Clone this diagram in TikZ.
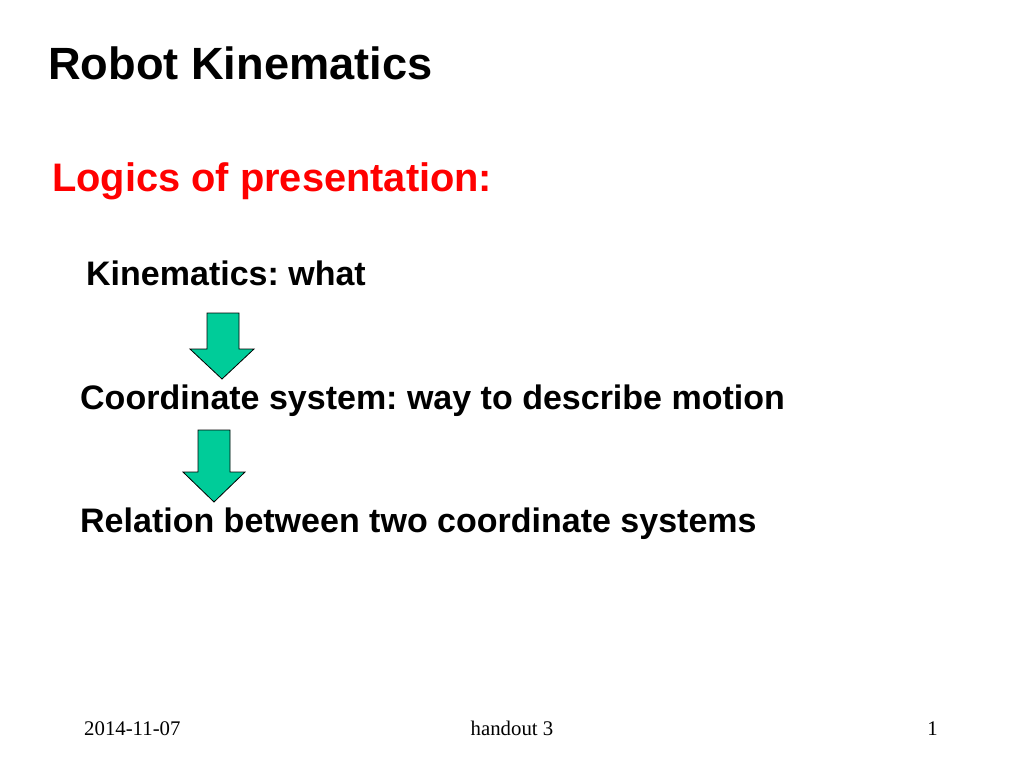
\documentclass[tikz,border=0pt]{standalone}
\usepackage{fontspec}
\setmainfont{Liberation Sans}
\newfontfamily\footfont{Liberation Serif}
\definecolor{arrowgreen}{RGB}{0,204,153}
\definecolor{titlered}{RGB}{255,0,0}
\frenchspacing
\begin{document}
\begin{tikzpicture}[x=1pt,y=-1pt,
  txt/.style={anchor=base west,inner sep=0pt,font=\bfseries},
  foot/.style={anchor=base,inner sep=0pt,font=\footfont\fontsize{20.8}{24}\selectfont},
  blockarrow/.style={draw=black,line width=0.8pt,fill=arrowgreen,line join=miter}]
\useasboundingbox (0,0) rectangle (1024,768);
\fill[white] (0,0) rectangle (1024,768);
\node[txt,font=\bfseries\fontsize{45.2}{54}\selectfont] (title) at (48,79) {Robot Kinematics};
\node[txt,font=\bfseries\fontsize{39.8}{48}\selectfont,text=titlered] (logic) at (52,191) {Logics of presentation:};
\node[txt,font=\bfseries\fontsize{34}{40}\selectfont] (kin) at (86,285) {Kinematics: what};
\node[txt,font=\bfseries\fontsize{34}{40}\selectfont] (coord) at (80,409) {Coordinate system: way to describe motion};
\node[txt,font=\bfseries\fontsize{34}{40}\selectfont] (rel) at (80,532) {Relation between two coordinate systems};
\draw[blockarrow] (207,313) -- (239,313) -- (239,349) -- (254,349) -- (222,379) -- (190,349) -- (207,349) -- cycle;
\draw[blockarrow] (198,430) -- (230,430) -- (230,472) -- (245,472) -- (214,502) -- (183,472) -- (198,472) -- cycle;
\node[foot,anchor=base west] (date) at (84,735) {2014-11-07};
\node[foot] (hand) at (512,735) {handout 3};
\node[foot,anchor=base east] (page) at (938,735) {1};
\end{tikzpicture}
\end{document}
